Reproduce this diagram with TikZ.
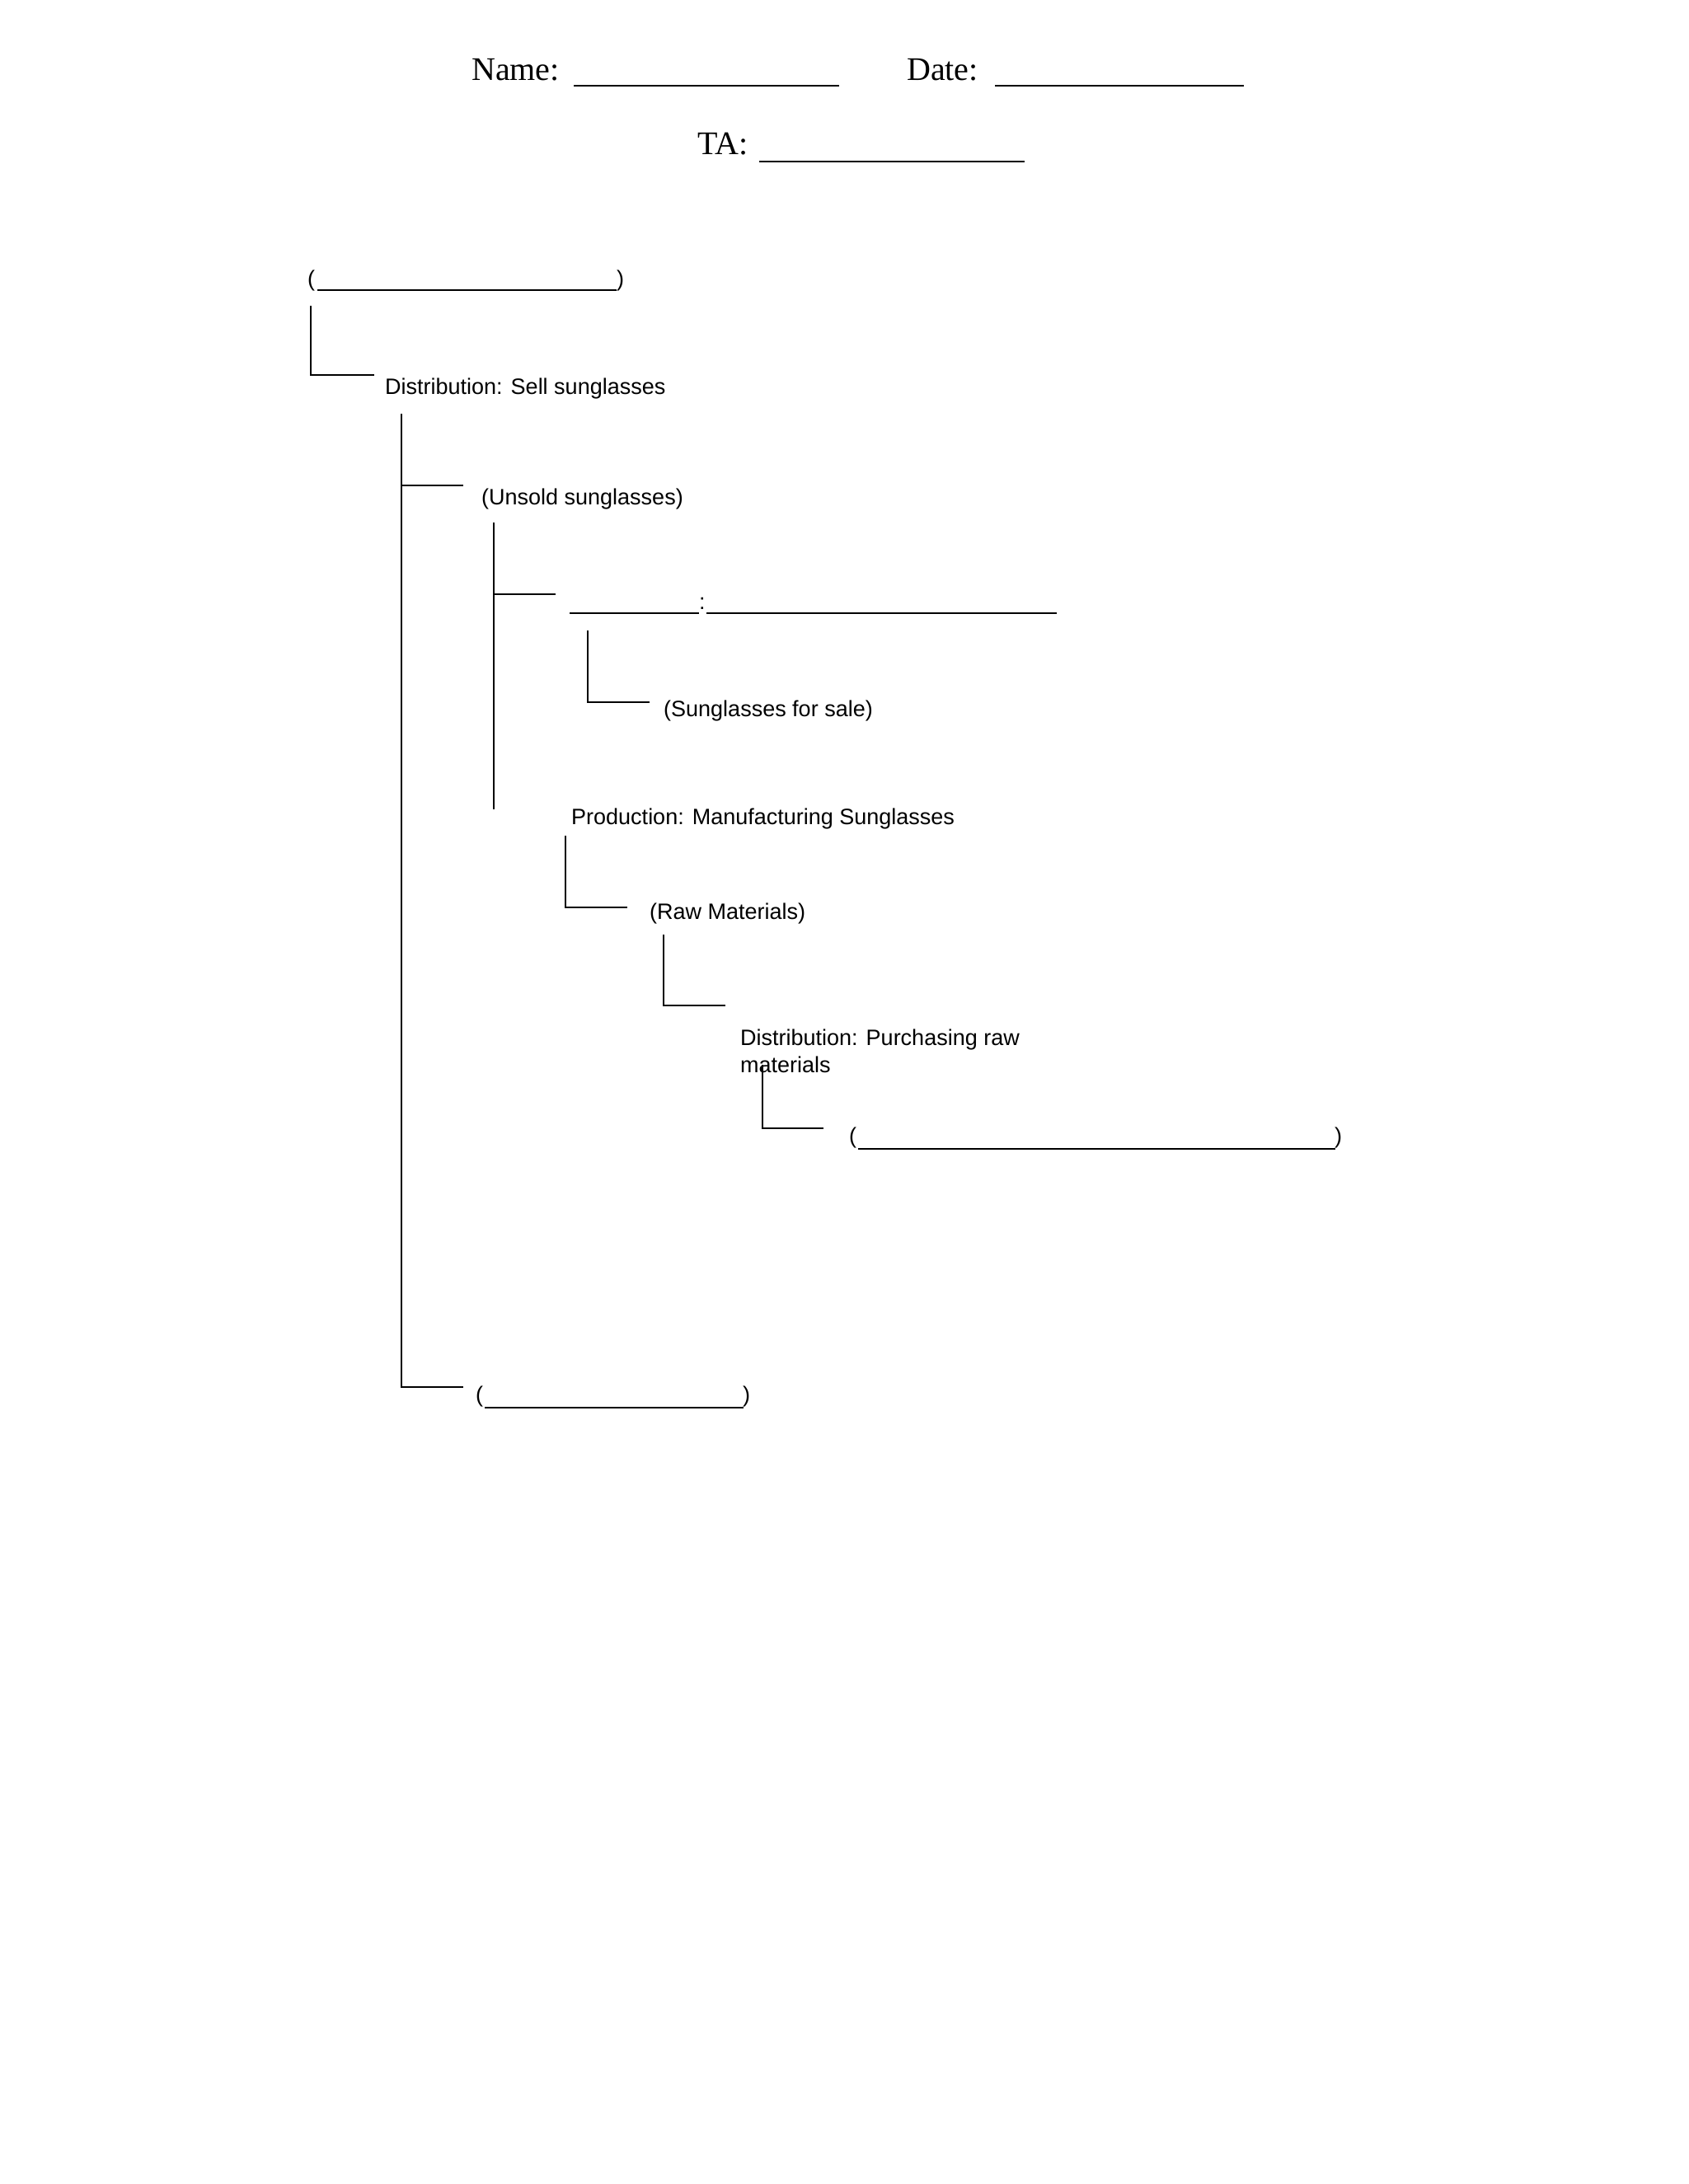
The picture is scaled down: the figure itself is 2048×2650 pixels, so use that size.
\documentclass[tikz,border=0pt]{standalone}
\usepackage{fontspec}
\setmainfont{Liberation Serif}
\newfontfamily\arial{Liberation Sans}
\begin{document}
\begin{tikzpicture}[x=1pt,y=-1pt,
  lbl/.style={font=\arial\fontsize{27}{31}\selectfont,anchor=west,inner sep=0pt},
  hdr/.style={font=\fontsize{40}{46}\selectfont,anchor=base west,inner sep=0pt},
  conn/.style={line width=2.5pt},
  blank/.style={line width=2.2pt}]
\useasboundingbox[fill=white] (0,0) rectangle (2048,2650);
% header
\node[hdr] (name) at (572,97) {Name:};
\draw[blank] (696,104) -- (1018,104);
\node[hdr] (date) at (1100,97) {Date:};
\draw[blank] (1207,104) -- (1509,104);
\node[hdr] (ta) at (846,187) {TA:};
\draw[blank] (921,196) -- (1243,196);
% top blank
\node[lbl] (p1) at (373,341) {(};
\node[lbl] (p1r) at (748,341) {)};
\draw[blank] (385,352) -- (748,352);
\coordinate (c1) at (377,371);
\node[lbl] (dist) at (467,472) {Distribution: Sell sunglasses};
\draw[conn] (c1) |- (454,455);
% main trunk
\coordinate (c2) at (487,502);
\draw[conn] (c2) -- (487,1683) -- (562,1683);
\draw[conn] (487,589) -- (562,589);
\node[lbl] (uns) at (584,606) {(Unsold sunglasses)};
\draw[conn] (599,634) -- (599,982);
\draw[conn] (599,721) -- (674,721);
\draw[blank] (691,744) -- (848,744);
\node[lbl] (colon) at (848,732) {:};
\draw[blank] (857,744) -- (1282,744);
\draw[conn] (713,765) |- (788,852);
\node[lbl] (sale) at (805,863) {(Sunglasses for sale)};
\node[lbl] (prod) at (693,994) {Production: Manufacturing Sunglasses};
\draw[conn] (686,1014) |- (761,1101);
\node[lbl] (raw) at (788,1108) {(Raw Materials)};
\draw[conn] (805,1134) |- (880,1220);
\node[lbl,align=left,font=\arial\fontsize{27}{33}\selectfont] (purch) at (898,1275) {Distribution: Purchasing raw\\materials};
\draw[conn] (925,1292) |- (999,1369);
\node[lbl] (p2) at (1030,1380) {(};
\node[lbl] (p2r) at (1619,1380) {)};
\draw[blank] (1041,1394) -- (1620,1394);
\node[lbl] (p3) at (577,1694) {(};
\node[lbl] (p3r) at (901,1694) {)};
\draw[blank] (588,1708) -- (902,1708);
\end{tikzpicture}
\end{document}
